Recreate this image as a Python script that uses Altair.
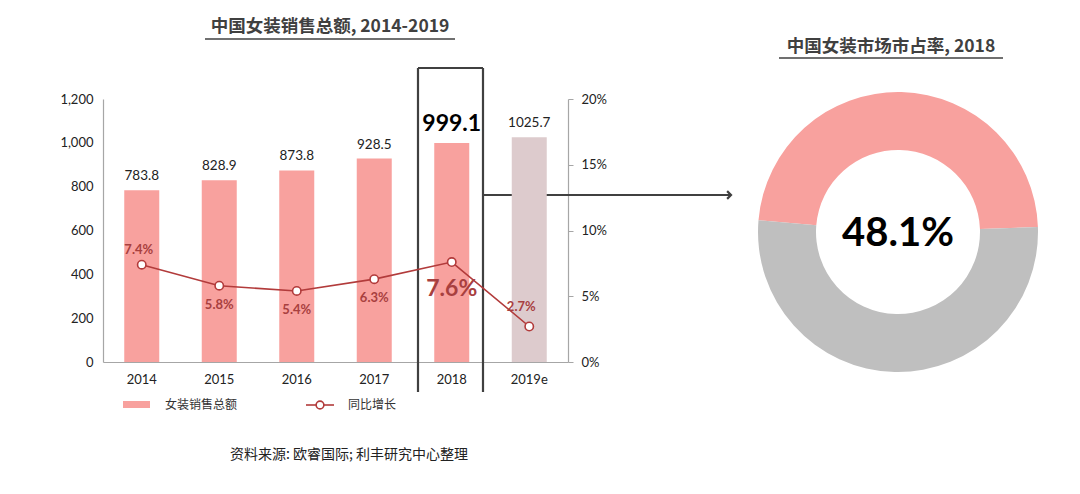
import altair as alt
import pandas as pd

years = ["2014", "2015", "2016", "2017", "2018", "2019e"]
sales = [783.8, 828.9, 873.8, 928.5, 999.1, 1025.7]
growth = [7.4, 5.8, 5.4, 6.3, 7.6, 2.7]
bar_colors = ["#F8A19E", "#F8A19E", "#F8A19E", "#F8A19E", "#F8A19E", "#DDCBCD"]

share_labels = ["女装", "其他"]
share_values = [48.1, 51.9]
share_colors = ["#F8A19E", "#BFBFBF"]

title_left = "中国女装销售总额, 2014-2019"
title_right = "中国女装市场市占率, 2018"
legend_bar = "女装销售总额"
legend_line = "同比增长"
source = "资料来源: 欧睿国际; 利丰研究中心整理"

NUM_FONT = "Lato"
CJK = "Noto Sans CJK SC"
LINE_RED = "#B23B3B"
LABEL_RED = "#A8403F"
AXIS_GREY = "#A6A6A6"
DARK = "#404040"

df = pd.DataFrame({
    "year": years,
    "sales": sales,
    "growth": growth,
    "color": bar_colors,
    "sales_lbl": [f"{v:.1f}" for v in sales],
    "growth_lbl": [f"{v:.1f}%" for v in growth],
})
share_df = pd.DataFrame({"name": share_labels, "value": share_values,
                         "color": share_colors, "idx": [0, 1]})
one = pd.DataFrame({"a": [0]})

W, H = 465, 263
OX, OY = 103, 99  # plot origin on the page

x_axis = alt.Axis(title=None, labelAngle=0, labelFont=NUM_FONT,
                  labelFontSize=13, labelColor="#222222",
                  labelPadding=11, ticks=False, grid=False,
                  domainColor=AXIS_GREY, domainWidth=1.2)
x_scale = alt.Scale(paddingInner=0.56, paddingOuter=0.28)
x_enc = alt.X("year:N", sort=years, scale=x_scale, axis=x_axis)

sales_scale = alt.Scale(domain=[0, 1200], nice=False)
pct_scale = alt.Scale(domain=[0, 20], nice=False)

y_sales = alt.Y("sales:Q", scale=sales_scale,
                axis=alt.Axis(title=None, orient="left", values=[0, 200, 400, 600, 800, 1000, 1200],
                              format=",.0f", labelFont=NUM_FONT, labelFontSize=13,
                              labelColor="#222222", ticks=False, grid=False,
                              domainColor=AXIS_GREY, domainWidth=1.2, labelPadding=10))
y_sales_h = alt.Y("sales:Q", scale=sales_scale, axis=None)
y_pct = alt.Y("growth:Q", scale=pct_scale,
              axis=alt.Axis(title=None, orient="right", values=[0, 5, 10, 15, 20],
                            labelExpr="datum.value + '%'", labelFont=NUM_FONT,
                            labelFontSize=13, labelColor="#222222", tickSize=5,
                            tickColor=AXIS_GREY, grid=False, domainColor=AXIS_GREY,
                            domainWidth=1.2, labelPadding=8))
y_pct_h = alt.Y("growth:Q", scale=pct_scale, axis=None)

base = alt.Chart(df)

# box around 2018 (no bottom edge) and arrow
box_left = alt.Chart(one).mark_rule(color=DARK, strokeWidth=2.2).encode(
    x=alt.value(418 - OX), y=alt.value(68 - OY), y2=alt.value(392 - OY))
box_right = alt.Chart(one).mark_rule(color=DARK, strokeWidth=2.2).encode(
    x=alt.value(483 - OX), y=alt.value(68 - OY), y2=alt.value(392 - OY))
box_top = alt.Chart(one).mark_rule(color=DARK, strokeWidth=2.2).encode(
    x=alt.value(418 - OX), x2=alt.value(483 - OX), y=alt.value(68 - OY))
arrow = alt.Chart(one).mark_rule(color=DARK, strokeWidth=2).encode(
    x=alt.value(483 - OX), x2=alt.value(731 - OX), y=alt.value(195 - OY))
arrow_head = alt.Chart(one).mark_point(
    shape="M-1,-1L0,0L-1,1", filled=False, color=DARK, strokeWidth=2.2,
    size=60, opacity=1).encode(x=alt.value(731 - OX), y=alt.value(195 - OY))

bars = base.mark_bar(size=35).encode(
    x=x_enc, y=y_sales, color=alt.Color("color:N", scale=None))
bar_lbl = base.transform_filter(alt.datum.year != "2018").mark_text(
    baseline="bottom", dy=-7, font=NUM_FONT, fontSize=13.5, color="#222222").encode(
    x=x_enc, y=y_sales_h, text="sales_lbl:N")
bar_lbl_big = base.transform_filter(alt.datum.year == "2018").mark_text(
    baseline="bottom", dy=-7, font=NUM_FONT, fontSize=23, fontWeight="bold", color="#000000").encode(
    x=x_enc, y=y_sales_h, text="sales_lbl:N")

line = base.mark_line(color=LINE_RED, strokeWidth=1.6).encode(x=x_enc, y=y_pct)
pts = base.mark_point(filled=True, fill="white", stroke=LINE_RED, strokeWidth=1.6,
                      size=70, opacity=1).encode(x=x_enc, y=y_pct_h)
lbl_above = base.transform_filter(alt.datum.year == "2014").mark_text(
    dy=-15, dx=-3, font=NUM_FONT, fontSize=13, fontWeight="bold", color=LABEL_RED).encode(
    x=x_enc, y=y_pct_h, text="growth_lbl:N")
lbl_2019 = base.transform_filter(alt.datum.year == "2019e").mark_text(
    dy=-19, dx=-8, font=NUM_FONT, fontSize=13, fontWeight="bold", color=LABEL_RED).encode(
    x=x_enc, y=y_pct_h, text="growth_lbl:N")
lbl_below = base.transform_filter(
    alt.FieldOneOfPredicate(field="year", oneOf=["2015", "2016", "2017"])).mark_text(
    dy=19, font=NUM_FONT, fontSize=13, fontWeight="bold", color=LABEL_RED).encode(
    x=x_enc, y=y_pct_h, text="growth_lbl:N")
lbl_big = base.transform_filter(alt.datum.year == "2018").mark_text(
    dy=27, font=NUM_FONT, fontSize=23, fontWeight="bold", color=LABEL_RED).encode(
    x=x_enc, y=y_pct_h, text="growth_lbl:N")

# donut
CX, CY = 898 - OX, 232 - OY
start = -85.2 * 3.14159265 / 180
donut = alt.Chart(share_df).mark_arc(outerRadius=140, innerRadius=82).encode(
    theta=alt.Theta("value:Q", stack=True,
                    scale=alt.Scale(range=[start, start + 2 * 3.14159265])),
    color=alt.Color("color:N", scale=None),
    order=alt.Order("idx:Q"),
    x=alt.value(CX), y=alt.value(CY))
donut_txt = alt.Chart(share_df).transform_filter(alt.datum.idx == 0).transform_calculate(
    lbl=alt.expr.format(alt.datum.value, ".1f") + "%").mark_text(
    font=NUM_FONT, fontSize=40, fontWeight="bold", color="#000000", baseline="middle").encode(
    x=alt.value(CX), y=alt.value(CY + 2), text="lbl:N")

def text_at(t, x, y, size, weight="normal", color=DARK, font=CJK, align="center"):
    return alt.Chart(one).mark_text(font=font, fontSize=size, fontWeight=weight,
                                    color=color, align=align, baseline="middle").encode(
        x=alt.value(x - OX), y=alt.value(y - OY), text=alt.value(t))

t1 = text_at(title_left, 330, 27, 17.5, "bold")
u1 = alt.Chart(one).mark_rule(color=DARK, strokeWidth=1.3).encode(
    x=alt.value(205 - OX), x2=alt.value(455 - OX), y=alt.value(39 - OY))
t2 = text_at(title_right, 891, 47, 17.5, "bold")
u2 = alt.Chart(one).mark_rule(color=DARK, strokeWidth=1.3).encode(
    x=alt.value(779 - OX), x2=alt.value(1003 - OX), y=alt.value(58 - OY))

leg_rect = alt.Chart(one).mark_rect(color="#F8A19E").encode(
    x=alt.value(123 - OX), x2=alt.value(150 - OX), y=alt.value(401 - OY), y2=alt.value(408 - OY))
leg_t1 = text_at(legend_bar, 165, 405, 12, color="#333333", align="left")
leg_line = alt.Chart(one).mark_rule(color=LINE_RED, strokeWidth=1.6).encode(
    x=alt.value(306 - OX), x2=alt.value(334 - OX), y=alt.value(405 - OY))
leg_pt = alt.Chart(one).mark_point(filled=True, fill="white", stroke=LINE_RED, strokeWidth=1.6,
                                   size=60, opacity=1).encode(
    x=alt.value(320 - OX), y=alt.value(405 - OY))
leg_t2 = text_at(legend_line, 348, 405, 12, color="#333333", align="left")
src = text_at(source, 349, 455, 14, color="#222222")

chart = alt.layer(
    arrow, arrow_head, bars, box_left, box_right, box_top, bar_lbl, bar_lbl_big,
    line, pts, lbl_above, lbl_2019, lbl_below, lbl_big,
    donut, donut_txt, t1, u1, t2, u2, leg_rect, leg_t1, leg_line, leg_pt, leg_t2, src,
).resolve_scale(y="independent").properties(
    width=W, height=H,
    autosize=alt.AutoSizeParams(type="none"),
    padding={"left": OX, "top": OY, "right": 1080 - OX - W, "bottom": 494 - OY - H},
    background="white",
).configure_view(strokeWidth=0)

chart.save("out.html", embed_options={"renderer": "svg", "actions": False})
